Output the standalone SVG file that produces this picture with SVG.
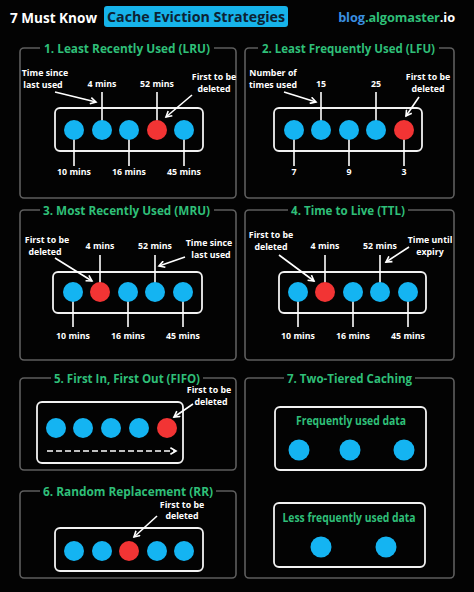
<svg xmlns="http://www.w3.org/2000/svg" width="474" height="592" viewBox="0 0 474 592">
<defs>
<style>
.bg{fill:#030303}
.panel{fill:none;stroke:#5e5e5e;stroke-width:1.6}
.inner{fill:none;stroke:#f2f2f2;stroke-width:1.8}
.title{font-family:"Open Sans","Noto Sans",sans-serif;font-weight:700;font-size:12px;fill:#2fbf78;text-anchor:middle}
.lbl{font-family:"Open Sans","Noto Sans",sans-serif;font-weight:700;font-size:8.8px;fill:#ffffff;text-anchor:middle}
.logo{font-family:"Open Sans","Noto Sans",sans-serif;font-weight:700;font-size:12.8px;letter-spacing:-0.1px}
.blue{fill:#14b4f2}
.red{fill:#f23434}
.lead{stroke:#ffffff;stroke-width:1.6}
.arr{stroke:#ffffff;stroke-width:1.6;fill:none;marker-end:url(#ah)}
.tbg{fill:#030303}
</style>
<marker id="ah" viewBox="0 0 10 10" refX="8" refY="5" markerWidth="5" markerHeight="5" orient="auto" markerUnits="strokeWidth">
<path d="M1,1 L8,5 L1,9" fill="none" stroke="#ffffff" stroke-width="2"/>
</marker>
</defs>
<rect class="bg" x="0" y="0" width="474" height="592"/>

<g id="header">
<text x="10" y="23" font-family="Open Sans, Noto Sans, sans-serif" font-weight="700" font-size="14" fill="#ffffff" textLength="87" lengthAdjust="spacingAndGlyphs">7 Must Know</text>
<rect x="104" y="6" width="184" height="21" rx="3" fill="#16b3ea"/>
<text x="107" y="22" font-family="Open Sans, Noto Sans, sans-serif" font-weight="700" font-size="14" fill="#0d2233" textLength="178" lengthAdjust="spacingAndGlyphs">Cache Eviction Strategies</text>
<text class="logo" x="455" y="22" text-anchor="end"><tspan fill="#3a8fe0">blog</tspan><tspan fill="#2fbf78">.algomaster</tspan><tspan fill="#ffffff">.io</tspan></text>
</g>

<!-- Panel 1 LRU -->
<g id="lru">
<rect class="panel" x="20" y="48" width="216" height="150" rx="4"/>
<rect class="tbg" x="40" y="40" width="174" height="16"/>
<text class="title" x="127" y="52.5" textLength="166" lengthAdjust="spacingAndGlyphs">1. Least Recently Used (LRU)</text>
<rect class="inner" x="55" y="108" width="148" height="43" rx="5"/>
<line class="lead" x1="102" y1="92" x2="102" y2="125"/>
<line class="lead" x1="157" y1="92" x2="157" y2="125"/>
<line class="lead" x1="74" y1="135" x2="74" y2="166"/>
<line class="lead" x1="129" y1="135" x2="129" y2="166"/>
<line class="lead" x1="184" y1="135" x2="184" y2="166"/>
<circle class="blue" cx="74" cy="130" r="10"/>
<circle class="blue" cx="102" cy="130" r="10"/>
<circle class="blue" cx="129" cy="130" r="10"/>
<circle class="red" cx="157" cy="130" r="10"/>
<circle class="blue" cx="184" cy="130" r="10"/>
<text class="lbl" x="45" y="76">Time since</text>
<text class="lbl" x="43" y="88">last used</text>
<text class="lbl" x="102" y="87">4 mins</text>
<text class="lbl" x="157" y="87">52 mins</text>
<text class="lbl" x="214" y="80">First to be</text>
<text class="lbl" x="214" y="92">deleted</text>
<text class="lbl" x="74" y="175">10 mins</text>
<text class="lbl" x="129" y="175">16 mins</text>
<text class="lbl" x="184" y="175">45 mins</text>
<line class="arr" x1="55" y1="92" x2="96" y2="102"/>
<line class="arr" x1="192" y1="95" x2="166" y2="117"/>
</g>

<!-- Panel 2 LFU -->
<g id="lfu">
<rect class="panel" x="245" y="48" width="209" height="150" rx="4"/>
<rect class="tbg" x="258" y="40" width="181" height="16"/>
<text class="title" x="348.5" y="52.5" textLength="173" lengthAdjust="spacingAndGlyphs">2. Least Frequently Used (LFU)</text>
<rect class="inner" x="274" y="108" width="148" height="43" rx="5"/>
<line class="lead" x1="321" y1="92" x2="321" y2="125"/>
<line class="lead" x1="376" y1="92" x2="376" y2="125"/>
<line class="lead" x1="294" y1="135" x2="294" y2="166"/>
<line class="lead" x1="349" y1="135" x2="349" y2="166"/>
<line class="lead" x1="404" y1="135" x2="404" y2="166"/>
<circle class="blue" cx="294" cy="130" r="10"/>
<circle class="blue" cx="321" cy="130" r="10"/>
<circle class="blue" cx="349" cy="130" r="10"/>
<circle class="blue" cx="376" cy="130" r="10"/>
<circle class="red" cx="404" cy="130" r="10"/>
<text class="lbl" x="273" y="76">Number of</text>
<text class="lbl" x="273" y="88">times used</text>
<text class="lbl" x="321" y="87">15</text>
<text class="lbl" x="376" y="87">25</text>
<text class="lbl" x="428" y="80">First to be</text>
<text class="lbl" x="428" y="92">deleted</text>
<text class="lbl" x="294" y="175">7</text>
<text class="lbl" x="349" y="175">9</text>
<text class="lbl" x="404" y="175">3</text>
<line class="arr" x1="284" y1="92" x2="316" y2="102"/>
<line class="arr" x1="419" y1="97" x2="406" y2="116"/>
</g>

<!-- Panel 3 MRU -->
<g id="mru">
<rect class="panel" x="20" y="210" width="216" height="150" rx="4"/>
<rect class="tbg" x="40" y="202" width="174" height="16"/>
<text class="title" x="126.5" y="214.5" textLength="167" lengthAdjust="spacingAndGlyphs">3. Most Recently Used (MRU)</text>
<rect class="inner" x="53" y="272" width="149" height="41" rx="5"/>
<line class="lead" x1="100" y1="255" x2="100" y2="287"/>
<line class="lead" x1="155" y1="255" x2="155" y2="287"/>
<line class="lead" x1="73" y1="297" x2="73" y2="327"/>
<line class="lead" x1="128" y1="297" x2="128" y2="327"/>
<line class="lead" x1="183" y1="297" x2="183" y2="327"/>
<circle class="blue" cx="73" cy="292" r="10"/>
<circle class="red" cx="100" cy="292" r="10"/>
<circle class="blue" cx="128" cy="292" r="10"/>
<circle class="blue" cx="155" cy="292" r="10"/>
<circle class="blue" cx="183" cy="292" r="10"/>
<text class="lbl" x="47" y="243">First to be</text>
<text class="lbl" x="45" y="255">deleted</text>
<text class="lbl" x="100" y="249">4 mins</text>
<text class="lbl" x="155" y="249">52 mins</text>
<text class="lbl" x="209" y="246">Time since</text>
<text class="lbl" x="211" y="258">last used</text>
<text class="lbl" x="73" y="339">10 mins</text>
<text class="lbl" x="128" y="339">16 mins</text>
<text class="lbl" x="183" y="339">45 mins</text>
<line class="arr" x1="55" y1="258" x2="92" y2="281"/>
<line class="arr" x1="185" y1="257" x2="159" y2="266"/>
</g>

<!-- Panel 4 TTL -->
<g id="ttl">
<rect class="panel" x="245" y="210" width="209" height="150" rx="4"/>
<rect class="tbg" x="288" y="202" width="120" height="16"/>
<text class="title" x="348" y="214.5" textLength="114" lengthAdjust="spacingAndGlyphs">4. Time to Live (TTL)</text>
<rect class="inner" x="279" y="272" width="147" height="41" rx="5"/>
<line class="lead" x1="325" y1="255" x2="325" y2="287"/>
<line class="lead" x1="380" y1="255" x2="380" y2="287"/>
<line class="lead" x1="298" y1="297" x2="298" y2="327"/>
<line class="lead" x1="353" y1="297" x2="353" y2="327"/>
<line class="lead" x1="408" y1="297" x2="408" y2="327"/>
<circle class="blue" cx="298" cy="292" r="10"/>
<circle class="red" cx="325" cy="292" r="10"/>
<circle class="blue" cx="353" cy="292" r="10"/>
<circle class="blue" cx="380" cy="292" r="10"/>
<circle class="blue" cx="408" cy="292" r="10"/>
<text class="lbl" x="271" y="238">First to be</text>
<text class="lbl" x="271" y="250">deleted</text>
<text class="lbl" x="325" y="249">4 mins</text>
<text class="lbl" x="380" y="249">52 mins</text>
<text class="lbl" x="430" y="243">Time until</text>
<text class="lbl" x="430" y="255">expiry</text>
<text class="lbl" x="298" y="339">10 mins</text>
<text class="lbl" x="353" y="339">16 mins</text>
<text class="lbl" x="408" y="339">45 mins</text>
<line class="arr" x1="279" y1="255" x2="314" y2="281"/>
<line class="arr" x1="409" y1="247" x2="386" y2="262"/>
</g>

<!-- Panel 5 FIFO -->
<g id="fifo">
<rect class="panel" x="20" y="378" width="216" height="92" rx="4"/>
<rect class="tbg" x="51" y="370" width="152" height="16"/>
<text class="title" x="127" y="382.5" textLength="146" lengthAdjust="spacingAndGlyphs">5. First In, First Out (FIFO)</text>
<rect class="inner" x="37" y="402" width="146" height="61" rx="5"/>
<circle class="blue" cx="56" cy="428" r="10"/>
<circle class="blue" cx="83" cy="428" r="10"/>
<circle class="blue" cx="111" cy="428" r="10"/>
<circle class="blue" cx="139" cy="428" r="10"/>
<circle class="red" cx="167" cy="428" r="10"/>
<line class="arr" x1="47" y1="451" x2="176" y2="451" stroke-dasharray="6,3"/>
<text class="lbl" x="209" y="393">First to be</text>
<text class="lbl" x="211" y="404.5">deleted</text>
<line class="arr" x1="193" y1="404" x2="174" y2="417"/>
</g>

<!-- Panel 6 RR -->
<g id="rr">
<rect class="panel" x="20" y="491" width="216" height="87" rx="4"/>
<rect class="tbg" x="40" y="483" width="176" height="16"/>
<text class="title" x="128" y="495.5" textLength="170" lengthAdjust="spacingAndGlyphs">6. Random Replacement (RR)</text>
<rect class="inner" x="55" y="528" width="148" height="43" rx="5"/>
<circle class="blue" cx="74" cy="551" r="10"/>
<circle class="blue" cx="102" cy="551" r="10"/>
<circle class="red" cx="129" cy="551" r="10"/>
<circle class="blue" cx="157" cy="551" r="10"/>
<circle class="blue" cx="184" cy="551" r="10"/>
<text class="lbl" x="182" y="507.5">First to be</text>
<text class="lbl" x="182" y="519">deleted</text>
<line class="arr" x1="157" y1="516" x2="134" y2="537"/>
</g>

<!-- Panel 7 Two-Tiered -->
<g id="twotier">
<rect class="panel" x="245" y="378" width="209" height="200" rx="4"/>
<rect class="tbg" x="284" y="370" width="131" height="16"/>
<text class="title" x="349.5" y="382.5" textLength="125" lengthAdjust="spacingAndGlyphs">7. Two-Tiered Caching</text>
<rect class="inner" x="275" y="407" width="151" height="63" rx="5"/>
<text class="title" x="351" y="425" font-size="10.5" textLength="110" lengthAdjust="spacingAndGlyphs">Frequently used data</text>
<circle class="blue" cx="299" cy="450" r="10.5"/>
<circle class="blue" cx="350" cy="450" r="10.5"/>
<circle class="blue" cx="404" cy="450" r="10.5"/>
<rect class="inner" x="274" y="503" width="151" height="64" rx="5"/>
<text class="title" x="349" y="522" font-size="10.5" textLength="133" lengthAdjust="spacingAndGlyphs">Less frequently used data</text>
<circle class="blue" cx="321" cy="547" r="10.5"/>
<circle class="blue" cx="386" cy="547" r="10.5"/>
</g>
</svg>
